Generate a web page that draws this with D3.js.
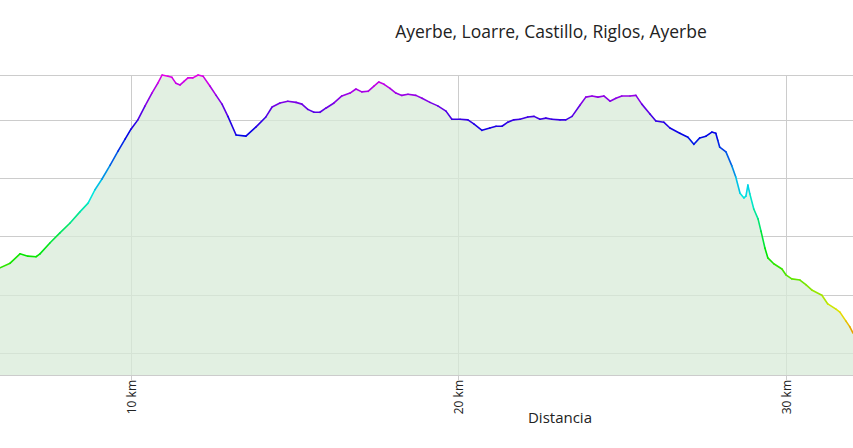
<!DOCTYPE html>
<html>
<head>
<meta charset="utf-8">
<script src="https://cdn.jsdelivr.net/npm/d3@7"></script>
<style>
  body { margin: 0; background: #fff; }
  text { font-family: 'Open Sans', 'DejaVu Sans', sans-serif; fill: #222; }
</style>
</head>
<body>
<svg id="chart" width="853" height="448"></svg>
<script>
// distance along the track (km) and elevation (m)
const distKm = [6.00,6.31,6.61,6.85,7.10,7.22,7.53,7.83,8.14,8.44,8.69,8.90,9.11,9.36,9.60,9.82,
  10.00,10.21,10.43,10.64,10.82,10.95,11.13,11.25,11.37,11.50,11.62,11.74,11.89,12.05,12.20,12.41,12.60,12.78,12.96,
  13.21,13.51,13.82,14.12,14.31,14.55,14.79,15.04,15.22,15.40,15.59,15.77,15.95,16.20,16.44,16.69,16.87,17.05,17.24,
  17.42,17.57,17.73,17.91,18.09,18.27,18.46,18.70,18.89,19.13,19.37,19.62,19.80,20.05,20.29,20.47,20.72,20.96,21.15,
  21.33,21.51,21.69,21.88,22.12,22.31,22.49,22.67,22.85,23.10,23.28,23.47,23.71,23.89,24.08,24.26,24.44,24.63,24.81,
  24.99,25.24,25.42,25.60,25.85,26.03,26.27,26.46,26.76,27.01,27.19,27.37,27.56,27.74,27.86,27.92,27.98,28.17,28.35,
  28.47,28.60,28.72,28.78,28.84,28.90,29.02,29.15,29.24,29.36,29.45,29.63,29.88,30.00,30.18,30.43,30.61,30.79,31.10,
  31.28,31.53,31.65,31.83,31.95,32.05];
const elevM = [646,654,670,666,665,670,689,706,723,742,757,780,798,822,846,867,
  884,900,924,946,963,977,975,973,963,960,966,972,972,977,975,958,942,927,906,
  874,872,888,905,922,929,932,930,927,918,913,913,920,929,941,946,953,948,949,
  958,965,961,954,946,942,944,942,937,930,924,915,901,901,900,893,882,886,889,
  889,896,900,901,905,906,901,903,901,900,900,906,925,939,941,939,941,932,937,
  941,941,942,927,910,898,896,886,877,870,858,869,872,879,877,865,853,845,821,
  802,774,766,769,788,773,747,730,709,680,663,653,644,634,627,625,617,608,599,
  584,575,570,555,545,534];
const xTicks = [10, 20, 30];
const yGrid = [500, 600, 700, 800, 900];
const title = 'Ayerbe, Loarre, Castillo, Riglos, Ayerbe';

const svg = d3.select('#chart');
const x = d3.scaleLinear().domain([6.0, 32.05]).range([0, 853]);
const y = d3.scaleLinear().domain([462, 977]).range([375, 75]);
const hue = d3.scaleLinear().domain([534, 977]).range([40, 300]);

// grid
svg.append('g').selectAll('line').data(yGrid.concat([977])).enter().append('line')
  .attr('x1', 0).attr('x2', 853)
  .attr('y1', d => Math.round(y(d)) + 0.5).attr('y2', d => Math.round(y(d)) + 0.5)
  .attr('stroke', '#cccccc');
svg.append('g').selectAll('line').data(xTicks).enter().append('line')
  .attr('x1', d => Math.round(x(d)) + 0.5).attr('x2', d => Math.round(x(d)) + 0.5)
  .attr('y1', 75).attr('y2', 380)
  .attr('stroke', '#cccccc');

const pts = distKm.map((d, i) => [d, elevM[i]]);

// area fill
svg.append('path').datum(pts)
  .attr('d', d3.area().x(d => x(d[0])).y0(375).y1(d => y(d[1])))
  .attr('fill', '#d8ebd8').attr('fill-opacity', 0.75);

svg.append('line').attr('x1', 0).attr('x2', 853).attr('y1', 375.5).attr('y2', 375.5)
  .attr('stroke', '#cccccc');

// coloured profile, one segment per step
svg.append('g').selectAll('line').data(d3.pairs(pts)).enter().append('line')
  .attr('x1', d => x(d[0][0])).attr('y1', d => y(d[0][1]))
  .attr('x2', d => x(d[1][0])).attr('y2', d => y(d[1][1]))
  .attr('stroke', d => d3.hsl(hue((d[0][1] + d[1][1]) / 2), 1, 0.45))
  .attr('stroke-width', 1.6).attr('stroke-linecap', 'round');

// tick labels
svg.append('g').selectAll('text').data(xTicks).enter().append('text')
  .attr('transform', d => `translate(${x(d) + 5},380) rotate(-90)`)
  .attr('text-anchor', 'end').attr('font-size', 12)
  .text(d => d + ' km');

svg.append('text').attr('x', 560).attr('y', 423).attr('text-anchor', 'middle')
  .attr('font-size', 15).text('Distancia');

svg.append('text').attr('x', 551).attr('y', 38).attr('text-anchor', 'middle')
  .attr('font-size', 17.5).text(title);
</script>
</body>
</html>
